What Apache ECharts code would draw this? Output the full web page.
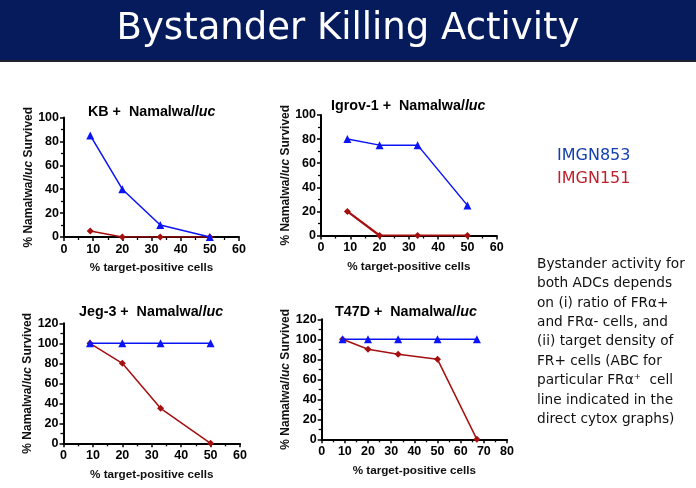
<!DOCTYPE html>
<html>
<head>
<meta charset="utf-8">
<script src="https://cdn.jsdelivr.net/npm/echarts@6/dist/echarts.min.js"></script>
<style>
  html, body { margin: 0; padding: 0; background: #fff; }
  #main { width: 696px; height: 488px; }
</style>
</head>
<body>
<div id="main"></div>
<script>
// ---- data ----
const kbX = [9, 20, 33, 50];
const kb853 = [85, 40, 10, 0];
const kb151 = [5, 0, 0, 0];

const igX = [9, 20, 33, 50];
const ig853 = [80, 75, 75, 25];
const ig151 = [20, 0, 0, 0];

const jegX = [9, 20, 33, 50];
const jeg853 = [100, 100, 100, 100];
const jeg151 = [100, 80, 35, 0];

const t47X = [9, 20, 33, 50, 67];
const t47853 = [100, 100, 100, 100, 100];
const t47151 = [100, 90, 85, 80, 0];

const panelTitles = ['KB +  Namalwa/', 'Igrov-1 +  Namalwa/', 'Jeg-3 +  Namalwa/', 'T47D +  Namalwa/'];
const xMax = [60, 60, 60, 80];
const yMax = [100, 100, 120, 120];
const seriesNames = ['IMGN853', 'IMGN151'];
const headerText = 'Bystander Killing Activity';
const noteLines = [
  'Bystander activity for',
  'both ADCs depends',
  'on (i) ratio of FRα+',
  'and FRα- cells, and',
  '(ii) target density of',
  'FR+ cells (ABC for',
  'particular FRα⁺  cell',
  'line indicated in the',
  'direct cytox graphs)'
];

// ---- layout ----
const grids = [
  { left: 64, top: 117.5, width: 175, height: 119.5 },
  { left: 321, top: 115, width: 175.7, height: 120.5 },
  { left: 63.5, top: 323.3, width: 176.5, height: 120 },
  { left: 321.7, top: 319.3, width: 185.3, height: 120 }
];
const titlePos = [[88, 105], [331, 99.5], [79, 305.5], [335, 305.5]];
const panels = [
  [kbX, kb853, kb151],
  [igX, ig853, ig151],
  [jegX, jeg853, jeg151],
  [t47X, t47853, t47151]
];

const BLUE = '#0a14f5';
const RED = '#a50f0f';
const FONT = 'Liberation Sans, Arial, sans-serif';

const chart = echarts.init(document.getElementById('main'), null, { renderer: 'canvas' });

const xAxes = [], yAxes = [], series = [], titles = [];
grids.forEach((g, i) => {
  xAxes.push({
    type: 'value', gridIndex: i, min: 0, max: xMax[i], interval: 10,
    name: '% target-positive cells', nameLocation: 'middle', nameGap: 25,
    nameTextStyle: { fontFamily: FONT, fontWeight: 'bold', fontSize: 11.7, color: '#111' },
    axisLine: { show: true, onZero: false, lineStyle: { color: '#000', width: 2 } },
    axisTick: { show: true, length: 4, lineStyle: { color: '#000', width: 1.5 } },
    minorTick: { show: true, splitNumber: 2, length: 3, lineStyle: { color: '#000', width: 1.3 } },
    splitLine: { show: false },
    axisLabel: { fontFamily: FONT, fontWeight: 'bold', fontSize: 12.5, color: '#000', margin: 6 }
  });
  yAxes.push({
    type: 'value', gridIndex: i, min: 0, max: yMax[i], interval: 20,
    name: '% Namalwa/{i|luc} Survived', nameLocation: 'middle', nameGap: 28,
    nameTextStyle: {
      fontFamily: FONT, fontWeight: 'bold', fontSize: 12, color: '#111',
      rich: { i: { fontFamily: FONT, fontWeight: 'bold', fontStyle: 'italic', fontSize: 12, color: '#111' } }
    },
    axisLine: { show: true, onZero: false, lineStyle: { color: '#000', width: 2 } },
    axisTick: { show: true, length: 4, lineStyle: { color: '#000', width: 1.5 } },
    minorTick: { show: true, splitNumber: 2, length: 3, lineStyle: { color: '#000', width: 1.3 } },
    splitLine: { show: false },
    axisLabel: { fontFamily: FONT, fontWeight: 'bold', fontSize: 12.5, color: '#000', margin: 5 }
  });
  const [xs, b, r] = panels[i];
  series.push({
    name: seriesNames[1], type: 'line', xAxisIndex: i, yAxisIndex: i,
    data: xs.map((x, k) => [x, r[k]]),
    symbol: 'diamond', symbolSize: 7,
    lineStyle: { color: RED, width: i === 1 ? 2.2 : 1.5 },
    itemStyle: { color: RED }, animation: false, z: 2
  });
  series.push({
    name: seriesNames[0], type: 'line', xAxisIndex: i, yAxisIndex: i,
    data: xs.map((x, k) => [x, b[k]]),
    symbol: 'triangle', symbolSize: 8,
    lineStyle: { color: BLUE, width: 1.5 },
    itemStyle: { color: BLUE }, animation: false, z: 3
  });
  titles.push({
    text: '{a|' + panelTitles[i] + '}{b|luc}',
    left: titlePos[i][0], top: titlePos[i][1], padding: 0,
    textStyle: {
      rich: {
        a: { fontFamily: FONT, fontWeight: 'bold', fontSize: 14.3, color: '#000' },
        b: { fontFamily: FONT, fontWeight: 'bold', fontStyle: 'italic', fontSize: 14.3, color: '#000' }
      }
    }
  });
});

chart.setOption({
  animation: false,
  backgroundColor: '#fff',
  title: titles,
  grid: grids.map(g => Object.assign({ containLabel: false }, g)),
  xAxis: xAxes,
  yAxis: yAxes,
  series: series,
  graphic: [
    { type: 'rect', left: 0, top: 0, shape: { width: 696, height: 60 }, style: { fill: '#051b5b' }, z: 0 },
    { type: 'rect', left: 0, top: 60, shape: { width: 696, height: 2 }, style: { fill: '#22232e' }, z: 0 },
    { type: 'text', x: 348, y: 29, style: { text: headerText, fill: '#fff', font: '37px "DejaVu Sans"', textAlign: 'center', textVerticalAlign: 'middle' }, z: 1 },
    { type: 'text', x: 557, y: 155.5, style: { text: seriesNames[0], fill: '#1340b0', font: '16px "DejaVu Sans"', textAlign: 'left', textVerticalAlign: 'middle' } },
    { type: 'text', x: 557, y: 178.5, style: { text: seriesNames[1], fill: '#c0202c', font: '16px "DejaVu Sans"', textAlign: 'left', textVerticalAlign: 'middle' } },
    { type: 'text', x: 537, y: 254.5, style: { text: noteLines.join('\n'), fill: '#111', font: '13.7px "DejaVu Sans"', lineHeight: 19.4, textAlign: 'left', textVerticalAlign: 'top' } }
  ]
});
</script>
</body>
</html>
